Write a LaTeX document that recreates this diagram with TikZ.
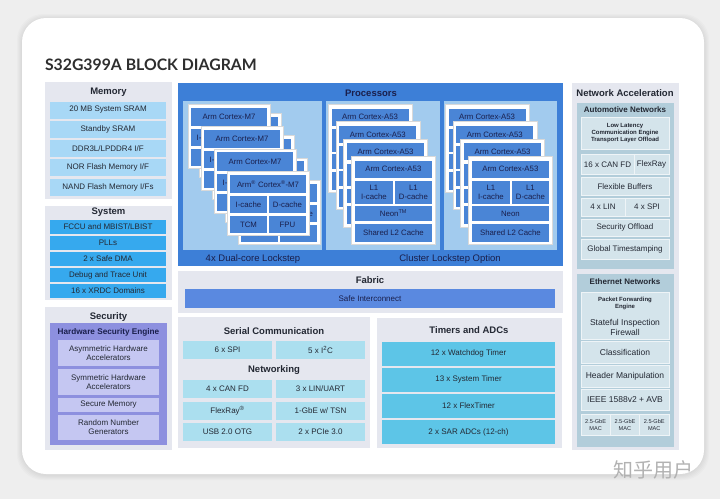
\documentclass[tikz,border=0pt]{standalone}
\usepackage{fontspec}
\setmainfont{Liberation Sans}
\newfontfamily\titlefont{Lato}
\newfontfamily\cjkfont{Noto Sans CJK SC}
\usetikzlibrary{positioning}

\definecolor{pagegray}{HTML}{EEEEEE}
\definecolor{panelgray}{HTML}{E5E7EF}
\definecolor{memblue}{HTML}{A8D8F6}
\definecolor{sysblue}{HTML}{36A9EE}
\definecolor{secpurple}{HTML}{8D90DF}
\definecolor{seclight}{HTML}{C5C7F2}
\definecolor{procblue}{HTML}{3D7FD7}
\definecolor{proclight}{HTML}{A2CBEE}
\definecolor{cellblue}{HTML}{4A85D6}
\definecolor{navy}{HTML}{1A1F4C}
\definecolor{fabblue}{HTML}{5A89E0}
\definecolor{sercyan}{HTML}{ABDFEF}
\definecolor{timcyan}{HTML}{5DC5E7}
\definecolor{netbox}{HTML}{B2CDDA}
\definecolor{netitem}{HTML}{D4E4EB}
\definecolor{inkgray}{HTML}{232833}
\newcommand\fsz[2]{\fontsize{#1}{#2}\selectfont}

\begin{document}
\begin{tikzpicture}[x=1pt, y=-1pt,
    every node/.style={inner sep=0pt, outer sep=0pt, text=inkgray},
    panel/.style={fill=panelgray, anchor=north west},
    ptitle/.style={font=\bfseries\fsz{9.5}{11}},
    item/.style={minimum width=116pt, font=\fsz{8}{9}, align=center},
    card/.style={fill=white, draw=black!15, line width=0.4pt, anchor=north west},
    cell/.style={fill=cellblue, text=navy, font=\fsz{7.8}{8.6}, align=center, anchor=north west},
    sitem/.style={fill=sercyan, minimum width=89pt, minimum height=18pt, font=\fsz{8}{9}},
    titem/.style={fill=timcyan, minimum width=173pt, minimum height=24pt, font=\fsz{8}{9}},
    secitem/.style={fill=seclight, minimum width=101pt, font=\fsz{8}{9.2}, align=center},
    nitem/.style={fill=netitem, draw=white!60!netitem, line width=0.6pt, minimum width=88pt, font=\fsz{8}{9.4}, align=center}
]
\useasboundingbox (0,0) rectangle (720,499);

% page and card
\fill[pagegray] (0,0) rectangle (720,499);
\foreach \s in {1,...,5}
  \fill[black, opacity=0.015, rounded corners=26pt] (22-\s,19-\s) rectangle (704+\s,475+\s);
\fill[white, rounded corners=24pt] (22,18) rectangle (704,474);

\node[font=\titlefont\bfseries\fsz{15.8}{18}, anchor=base west, text=black!82] (title) at (45,70) {S32G399A BLOCK DIAGRAM};

% Memory
\node[panel, minimum width=127pt, minimum height=117pt] (mempanel) at (45,82) {};
\node[ptitle] (memtitle) at (108.5,92) {Memory};
\node[item, fill=memblue, minimum height=17pt] (mem1) at (108,110) {20 MB System SRAM};
\node[item, fill=memblue, minimum height=17pt, below=2.3pt of mem1] (mem2) {Standby SRAM};
\node[item, fill=memblue, minimum height=17pt, below=2.3pt of mem2] (mem3) {DDR3L/LPDDR4 I/F};
\node[item, fill=memblue, minimum height=17pt, below=2.3pt of mem3] (mem4) {NOR Flash Memory I/F};
\node[item, fill=memblue, minimum height=17pt, below=2.3pt of mem4] (mem5) {NAND Flash Memory I/Fs};

% System
\node[panel, minimum width=127pt, minimum height=94pt] (syspanel) at (45,206) {};
\node[ptitle] (systitle) at (108.5,212) {System};
\node[item, fill=sysblue, minimum height=14pt] (sys1) at (108,227) {FCCU and MBIST/LBIST};
\node[item, fill=sysblue, minimum height=14pt, below=2pt of sys1] (sys2) {PLLs};
\node[item, fill=sysblue, minimum height=14pt, below=2pt of sys2] (sys3) {2 x Safe DMA};
\node[item, fill=sysblue, minimum height=14pt, below=2pt of sys3] (sys4) {Debug and Trace Unit};
\node[item, fill=sysblue, minimum height=14pt, below=2pt of sys4] (sys5) {16 x XRDC Domains};

% Security
\node[panel, minimum width=127pt, minimum height=143pt] (secpanel) at (45,307) {};
\node[ptitle] (sectitle) at (108.5,317) {Security};
\node[fill=secpurple, minimum width=117pt, minimum height=122pt, anchor=north west] (hse) at (50,323) {};
\node[font=\bfseries\fsz{8.2}{9}, text=navy] (hsetitle) at (108.5,332) {Hardware Security Engine};
\node[secitem, minimum height=26pt, anchor=north] (asym) at (108.5,340) {Asymmetric Hardware\\Accelerators};
\node[secitem, minimum height=26pt, below=3pt of asym] (sym) {Symmetric Hardware\\Accelerators};
\node[secitem, minimum height=14pt, below=3pt of sym] (smem) {Secure Memory};
\node[secitem, minimum height=25pt, below=3pt of smem] (rng) {Random Number\\Generators};

% Processors
\node[fill=procblue, minimum width=385pt, minimum height=183pt, anchor=north west] (procs) at (178,83) {};
\node[ptitle, text=navy] (proctitle) at (371,93) {Processors};
\node[fill=proclight, minimum width=139pt, minimum height=149pt, anchor=north west] (m7area) at (183,101) {};
\node[fill=proclight, minimum width=114pt, minimum height=149pt, anchor=north west] (a53areaA) at (326,101) {};
\node[fill=proclight, minimum width=113.5pt, minimum height=149pt, anchor=north west] (a53areaB) at (443.5,101) {};
\node[font=\fsz{9.5}{11}, text=navy] (lockA) at (253,259.5) {4x Dual-core Lockstep};
\node[font=\fsz{9.5}{11}, text=navy] (lockB) at (450,259.5) {Cluster Lockstep Option};

\foreach \m in {0,...,3}{
  \foreach \bk in {1,0}{
    \begin{scope}[shift={(188+13*\m+11*\bk,104+22.4*\m+9*\bk)}]
      \node[card, minimum width=82pt, minimum height=64pt] (m7c\m\bk) at (0,0) {};
      \node[cell, minimum width=76pt, minimum height=18.5pt] (m7h\m\bk) at (3,3.5)
        {\ifnum\m\bk=30 Arm\textsuperscript{®} Cortex\textsuperscript{®}-M7\else Arm Cortex-M7\fi};
      \node[cell, minimum width=37pt, minimum height=17pt] (m7i\m\bk) at (3,25) {I-cache};
      \node[cell, minimum width=37pt, minimum height=17pt] (m7d\m\bk) at (42,25) {D-cache};
      \node[cell, minimum width=37pt, minimum height=17pt] (m7t\m\bk) at (3,45) {TCM};
      \node[cell, minimum width=37pt, minimum height=17pt] (m7f\m\bk) at (42,45) {FPU};
    \end{scope}
  }
}

\foreach \p/\px/\neon in {A/328/{Neon\textsuperscript{TM}}, B/445/Neon}{
  \foreach \m in {0,...,3}{
    \begin{scope}[shift={(\px+7.8*\m,104+17.4*\m)}]
      \node[card, minimum width=84pt, minimum height=88pt] (a53c\p\m) at (0,0) {};
      \node[cell, minimum width=77pt, minimum height=17pt] (a53h\p\m) at (3.5,4.5) {Arm Cortex-A53};
      \node[cell, minimum width=38pt, minimum height=22.5pt] (a53i\p\m) at (3.5,25) {L1\\I-cache};
      \node[cell, minimum width=37pt, minimum height=22.5pt] (a53d\p\m) at (43.5,25) {L1\\D-cache};
      \node[cell, minimum width=77pt, minimum height=14.5pt] (a53n\p\m) at (3.5,50) {\neon};
      \node[cell, minimum width=77pt, minimum height=18pt] (a53l\p\m) at (3.5,67.5) {Shared L2 Cache};
    \end{scope}
  }
}

% Fabric
\node[panel, minimum width=385pt, minimum height=42pt] (fabpanel) at (178,271) {};
\node[ptitle] (fabtitle) at (370,280.5) {Fabric};
\node[fill=fabblue, minimum width=370pt, minimum height=19pt, text=navy, font=\fsz{8}{9}] (safeic) at (370,298.5) {Safe Interconnect};

% Serial Communication
\node[panel, minimum width=192pt, minimum height=131pt] (serpanel) at (178,317) {};
\node[ptitle] (sertitle) at (274,331) {Serial Communication};
\node[sitem] (spi) at (227.5,350) {6 x SPI};
\node[sitem, right=4pt of spi] (iic) {5 x I\textsuperscript{2}C};
\node[ptitle] (nettitle) at (274,370.5) {Networking};
\node[sitem] (canfd) at (227.5,389) {4 x CAN FD};
\node[sitem, right=4pt of canfd] (linuart) {3 x LIN/UART};
\node[sitem, below=3.5pt of canfd] (flexray) {FlexRay\textsuperscript{®}};
\node[sitem, right=4pt of flexray] (gbe) {1-GbE w/ TSN};
\node[sitem, below=3.5pt of flexray] (usb) {USB 2.0 OTG};
\node[sitem, right=4pt of usb] (pcie) {2 x PCIe 3.0};

% Timers and ADCs
\node[panel, minimum width=185.5pt, minimum height=130pt] (timpanel) at (376.5,318) {};
\node[ptitle] (timtitle) at (469,330) {Timers and ADCs};
\node[titem] (wdt) at (468.5,353.5) {12 x Watchdog Timer};
\node[titem, below=2.3pt of wdt] (stm) {13 x System Timer};
\node[titem, below=2.3pt of stm] (ftm) {12 x FlexTimer};
\node[titem, below=2.3pt of ftm] (adc) {2 x SAR ADCs (12-ch)};

% Network Acceleration
\node[panel, minimum width=107pt, minimum height=367pt] (netpanel) at (571.5,83) {};
\node[ptitle] (nacctitle) at (625,93) {Network Acceleration};
\node[fill=netbox, minimum width=97pt, minimum height=166pt, anchor=north west] (autobox) at (576.5,102.5) {};
\node[font=\bfseries\fsz{8}{9}] (autotitle) at (625,110) {Automotive Networks};
\node[nitem, minimum height=32pt, font=\bfseries\fsz{6}{7}, anchor=north] (llce) at (625,117.5) {Low Latency\\Communication Engine\\Transport Layer Offload};
\node[nitem, minimum width=53pt, minimum height=20pt, anchor=north west] (can16) at (581,154.5) {16 x CAN FD};
\node[nitem, minimum width=35pt, minimum height=20pt, right=0pt of can16] (flexray2) {FlexRay};
\node[nitem, minimum height=17.5pt, anchor=north west] (flexbuf) at (581,177.5) {Flexible Buffers};
\node[nitem, minimum width=44pt, minimum height=18pt, anchor=north west] (lin4) at (581,198) {4 x LIN};
\node[nitem, minimum width=44pt, minimum height=18pt, right=0pt of lin4] (spi4) {4 x SPI};
\node[nitem, minimum height=17.5pt, anchor=north west] (secoff) at (581,219) {Security Offload};
\node[nitem, minimum height=20pt, anchor=north west] (gts) at (581,239.5) {Global Timestamping};

\node[fill=netbox, minimum width=97pt, minimum height=173pt, anchor=north west] (ethbox) at (576.5,273.5) {};
\node[font=\bfseries\fsz{8}{9}] (ethtitle) at (625,282) {Ethernet Networks};
\node[nitem, minimum height=47pt, anchor=north] (pfe) at (625,292) {};
\node[font=\bfseries\fsz{6}{7}, align=center] (pfetitle) at (625,303.5) {Packet Forwarding\\Engine};
\node[font=\fsz{8.5}{10}, align=center] (firewall) at (625,327) {Stateful Inspection\\Firewall};
\node[nitem, minimum height=22pt, font=\fsz{8.5}{10}, below=2pt of pfe] (classif) {Classification};
\node[nitem, minimum height=22pt, font=\fsz{8.5}{10}, below=2pt of classif] (hdrman) {Header Manipulation};
\node[nitem, minimum height=21pt, font=\fsz{8.5}{10}, below=2pt of hdrman] (ieee) {IEEE 1588v2 + AVB};
\node[nitem, minimum width=29.3pt, minimum height=21pt, font=\fsz{5.6}{6.6}, anchor=north west] (mac1) at (581,414.5) {2.5-GbE\\MAC};
\node[nitem, minimum width=29.3pt, minimum height=21pt, font=\fsz{5.6}{6.6}, right=0pt of mac1] (mac2) {2.5-GbE\\MAC};
\node[nitem, minimum width=29.3pt, minimum height=21pt, font=\fsz{5.6}{6.6}, right=0pt of mac2] (mac3) {2.5-GbE\\MAC};

\node[font=\cjkfont\fsz{20}{22}, text=black!30] (wmark) at (653,470) {知乎用户};
\end{tikzpicture}
\end{document}
